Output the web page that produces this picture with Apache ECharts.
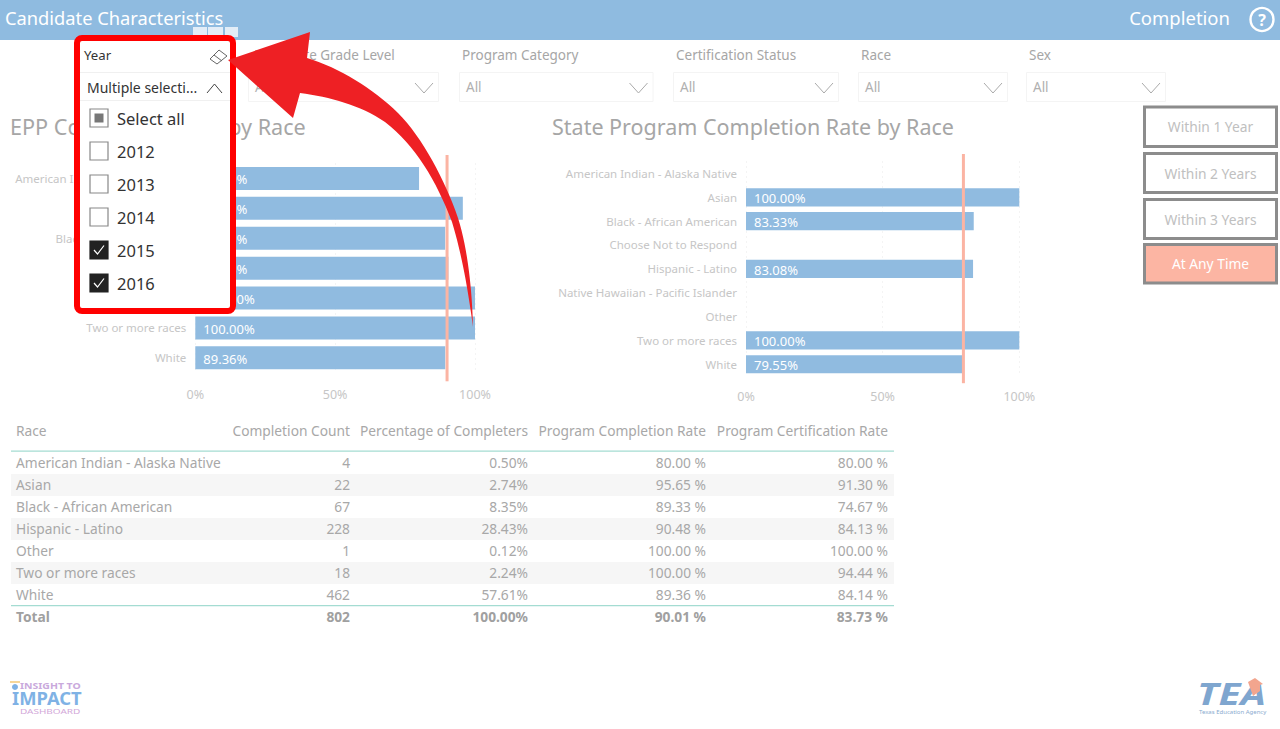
<!DOCTYPE html>
<html><head><meta charset="utf-8">
<script src="https://cdn.jsdelivr.net/npm/echarts@6/dist/echarts.min.js"></script>
<style>html,body{margin:0;padding:0;background:#fff}#c{width:1280px;height:729px}</style>
</head><body><div id="c"></div>
<script>
const eppRaces = ['American Indian - Alaska Native','Asian','Black - African American','Hispanic - Latino','Other','Two or more races','White'];
const eppRates = [80.00,95.65,89.33,90.48,100.00,100.00,89.36];
const eppTarget = 90.01;
const stateRaces = ['American Indian - Alaska Native','Asian','Black - African American','Choose Not to Respond','Hispanic - Latino','Native Hawaiian - Pacific Islander','Other','Two or more races','White'];
const stateRates = [null,100.00,83.33,null,83.08,null,null,100.00,79.55];
const stateTarget = 79.55;
const tableHead = ['Race','Completion Count','Percentage of Completers','Program Completion Rate','Program Certification Rate'];
const tableRows = [
 ['American Indian - Alaska Native','4','0.50%','80.00 %','80.00 %'],
 ['Asian','22','2.74%','95.65 %','91.30 %'],
 ['Black - African American','67','8.35%','89.33 %','74.67 %'],
 ['Hispanic - Latino','228','28.43%','90.48 %','84.13 %'],
 ['Other','1','0.12%','100.00 %','100.00 %'],
 ['Two or more races','18','2.24%','100.00 %','94.44 %'],
 ['White','462','57.61%','89.36 %','84.14 %']];
const tableTotal = ['Total','802','100.00%','90.01 %','83.73 %'];
const years = ['Select all','2012','2013','2014','2015','2016'];
const yearState = ['partial','off','off','off','on','on'];
const buttons = ['Within 1 Year','Within 2 Years','Within 3 Years','At Any Time'];

const F = '"Noto Sans"';
const g = [];
const T = (x,y,text,size,fill,o={}) => g.push({type:'text',z:o.z||5,x,y,scaleX:o.sx||1,silent:true,style:{text,fontFamily:F,fontSize:size,fill,fontWeight:o.w||'normal',fontStyle:o.i||'normal',textAlign:o.a||'left',textVerticalAlign:'middle'}});
const R = (x,y,w,h,fill,stroke,lw,z,r) => g.push({type:'rect',z:z||1,shape:{x,y,width:w,height:h,r:r||0},style:{fill:fill||'none',stroke:stroke||'none',lineWidth:lw||0}});
const L = (points,stroke,lw,z) => g.push({type:'polyline',z:z||5,shape:{points},style:{fill:'none',stroke,lineWidth:lw}});
const Poly = (points,fill,stroke,lw,z) => g.push({type:'polygon',z:z||5,shape:{points},style:{fill,stroke:stroke||'none',lineWidth:lw||0}});
const cubic = (p0,p1,p2,p3) => { const o=[]; for(let k=1;k<=16;k++){const t=k/16,u=1-t;
  o.push([u*u*u*p0[0]+3*u*u*t*p1[0]+3*u*t*t*p2[0]+t*t*t*p3[0], u*u*u*p0[1]+3*u*u*t*p1[1]+3*u*t*t*p2[1]+t*t*t*p3[1]]);} return o; };

// header
R(0,0,1280,40,'#8fbbe0');
T(5,17,'Candidate Characteristics',18.3,'#fff');
T(1230,17,'Completion',18.5,'#fff',{a:'right'});
g.push({type:'circle',z:5,shape:{cx:1262,cy:19.5,r:11.5},style:{fill:'none',stroke:'#fff',lineWidth:2.4}});
T(1262,19.5,'?',16,'#fff',{a:'center',w:'bold'});
[[193,14],[208,15],[225,13]].forEach(b=>R(b[0],27,b[1],10,'#e3edf7',null,0,2));

// slicers
const slicers = [['Certificate Grade Level',248,190,252],['Program Category',459,193.5,462],['Certification Status',673,165,676],['Race',858,149,861],['Sex',1026,139,1029]];
slicers.forEach(s=>{
  T(s[3],55,s[0],13.5,'#a6a6a6');
  R(s[1]+.5,72.5,s[2],29,'#fff','#f4f4f4',1,1);
  T(s[1]+7,87,'All',13.5,'#b0b0b0');
  const cx=s[1]+s[2]-14;
  L([[cx-9,83],[cx,93],[cx+9,83]],'#aaaaaa',1,3);
});

// chart titles
T(10,126.5,'EPP Completion Rate by Race',21.6,'#a6a6a6');
T(552,126.5,'State Program Completion Rate by Race',21.5,'#a6a6a6');

// buttons
[[107,39.5],[153.5,39],[199.5,39],[244.5,38.5]].forEach((b,i)=>{
  const on=i===3;
  R(1144.5,b[0],132,b[1],on?'#fcb5a3':'#fff','#8c8c8c',3,1);
  T(1210.5,b[0]+b[1]/2,buttons[i],13.8,on?'#fff':'#c0c0c0',{a:'center'});
});

// table
const colX=[16,350,528,706,888];
tableRows.forEach((r,i)=>{ if(i%2===1) R(11,452+22*i,883,22,'#f6f6f6'); });
const rowText=(row,y,fill,w)=>row.forEach((c,j)=>T(colX[j],y,c,13.75,fill,{a:j?'right':'left',w}));
rowText(tableHead,430,'#a8a8a8');
tableRows.forEach((r,i)=>rowText(r,462+22*i,'#a8a8a8'));
rowText(tableTotal,616,'#a0a0a0','bold');
R(11,450.5,883,1.2,'#a4dcd2');
R(11,605,883,1.2,'#a4dcd2');

// logos
R(10,681,10,2,'#f7d79a');
g.push({type:'circle',z:5,shape:{cx:15,cy:687,r:3},style:{fill:'#7fb2e5'}});
T(20,685.5,'INSIGHT TO',9.5,'#c9a9dc',{w:'bold',sx:1.1});
T(12,698.5,'IMPACT',17,'#7fb2e5',{w:'bold',sx:1.08});
T(20,710.5,'DASHBOARD',8,'#d3a9d9',{sx:1.25});
T(1197,693.5,'TEA',30,'#7fa6cf',{w:'bold',i:'italic',sx:1.35});
Poly([[1248,682],[1255,678],[1263,684],[1260,685],[1260,691],[1253,696]],'#f2a58e',null,0,6);
T(1199,711.5,'Texas Education Agency',6,'#8aabcf');

// year dropdown overlay
const Z=50;
R(77,38,156,273,'#fff','#ff0000',6,Z,5);
T(84,55,'Year',13.2,'#333',{z:Z+1});
Poly([[210,59],[219,50],[227,56],[217,64]],'#fff','#666',1,Z+1);
L([[214,55],[222,61]],'#666',1,Z+2);
R(80,72,150,1,'#f0f0f0',null,0,Z+1);
R(80,100,150,1,'#f0f0f0',null,0,Z+1);
T(87,87,'Multiple selecti...',14,'#333',{z:Z+1});
L([[207,93],[214.5,84],[222,93]],'#444',1,Z+1);
years.forEach((y,i)=>{
  const cy=118+33*i, st=yearState[i];
  R(90,cy-9,18,18,st==='on'?'#222':'#fff',st==='on'?'#222':'#888',1.2,Z+1);
  if(st==='partial') R(94.5,cy-4.5,9,9,'#777',null,0,Z+2);
  if(st==='on') L([[94,cy],[97.5,cy+4],[104,cy-4.5]],'#fff',1.2,Z+2);
  T(117,cy,y,16.5,'#333',{z:Z+1});
});

// arrow
Poly([[228,60],[310,32],[307,58],
  ...cubic([307,58],[340,68],[372,88],[398,113]),
  ...cubic([398,113],[422,137],[445,180],[458,218]),
  ...cubic([458,218],[468,250],[472,290],[473,327]),
  ...cubic([473,327],[468,290],[462,255],[452,222]),
  ...cubic([452,222],[436,180],[415,145],[385,122]),
  ...cubic([385,122],[360,105],[330,97],[300,93]),
  [293,118]],'#ee2024',null,0,Z+5);

const axisC='#c6c6c6';
function chartParts(i,cats,vals,target,grid,barW,ext,margin){
  return {
    grid:{left:grid[0],top:grid[1],width:grid[2],height:grid[3]},
    xAxis:{gridIndex:i,type:'value',min:0,max:100,interval:50,
      axisLine:{show:false},axisTick:{show:false},
      axisLabel:{formatter:'{value}%',color:axisC,fontFamily:F,fontSize:12.5,margin},
      splitLine:{show:true,lineStyle:{type:[1,4],color:'#e8e8e8'}}},
    yAxis:{gridIndex:i,type:'category',data:cats,inverse:true,
      axisLine:{show:false},axisTick:{show:false},
      axisLabel:{color:axisC,fontFamily:F,fontSize:11.5,margin:9}},
    series:[{type:'bar',xAxisIndex:i,yAxisIndex:i,data:vals,barWidth:barW,itemStyle:{color:'#90bbe0'},z:2,
      label:{show:true,position:'insideLeft',distance:8,offset:[0,1],color:'#fff',fontFamily:F,fontSize:13,
        formatter:p=>p.value==null?'':p.value.toFixed(2)+'%'}},
      {type:'custom',xAxisIndex:i,yAxisIndex:i,clip:false,z:3,silent:true,data:[[target,0]],encode:{x:0,y:1},
       renderItem:(params,api)=>{
         const x=api.coord([api.value(0),0])[0], cs=params.coordSys;
         return {type:'line',shape:{x1:x,x2:x,y1:cs.y-ext[0],y2:cs.y+cs.height+ext[1]},style:{stroke:'#fbb4a3',lineWidth:3}};
       }}]
  };
}
const a=chartParts(0,eppRaces,eppRates,eppTarget,[195.3,163.5,279.7,209.3],23,[8.5,8.5],15);
const b=chartParts(1,stateRaces,stateRates,stateTarget,[746,161.5,273.3,214.7],18.2,[7.5,7],14);
const chart=echarts.init(document.getElementById('c'),null,{renderer:'svg',width:1280,height:729});
chart.setOption({animation:false,backgroundColor:'#fff',tooltip:{show:false},
  grid:[a.grid,b.grid],xAxis:[a.xAxis,b.xAxis],yAxis:[a.yAxis,b.yAxis],series:[...a.series,...b.series],
  graphic:{elements:g}});
</script></body></html>
